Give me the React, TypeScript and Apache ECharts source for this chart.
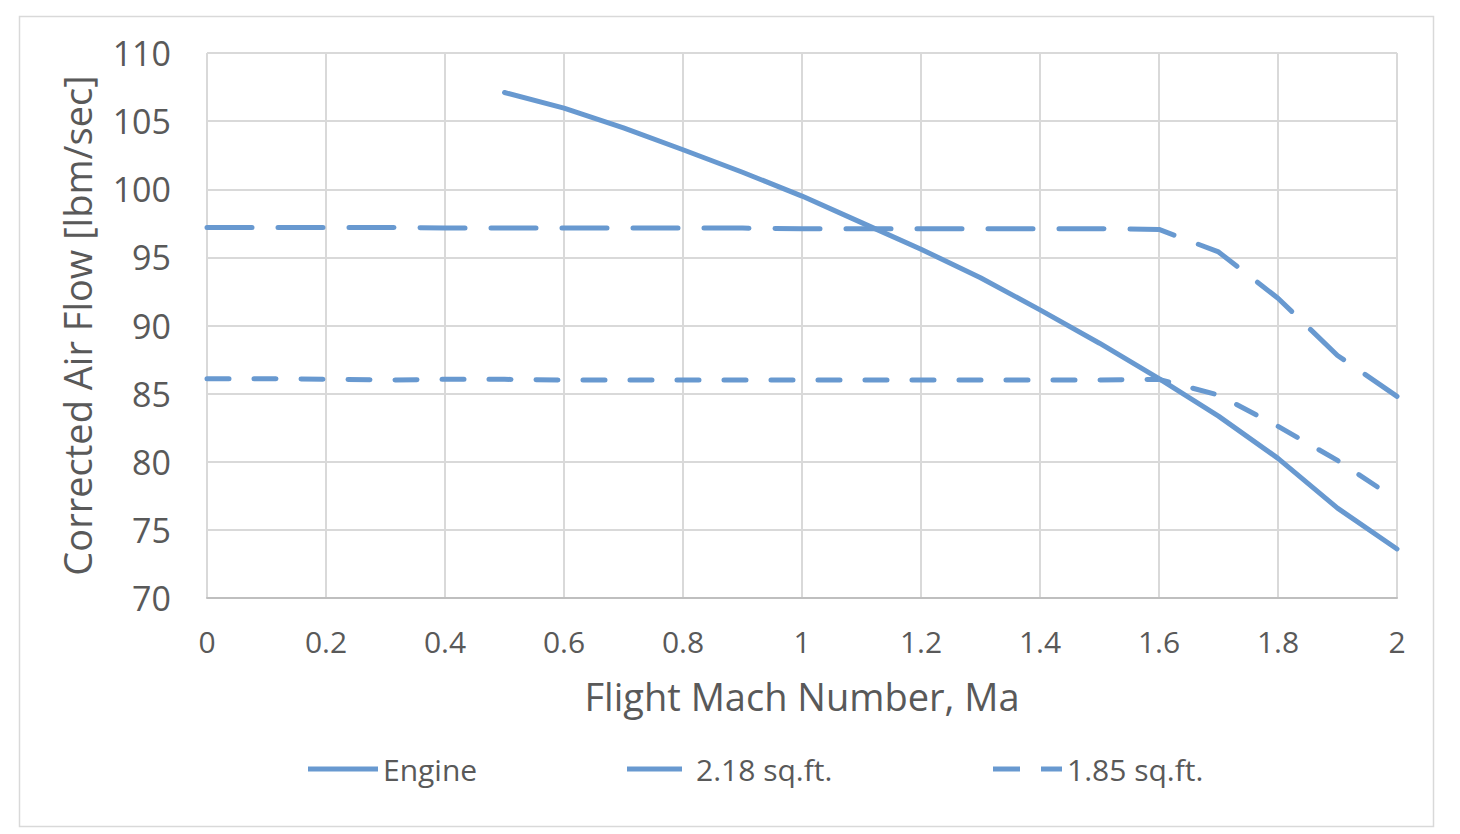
import React, { useEffect, useRef } from "react";
import * as echarts from "echarts";

const machNumbers = [0, 0.1, 0.2, 0.3, 0.4, 0.5, 0.6, 0.7, 0.8, 0.9, 1.0, 1.1, 1.2, 1.3, 1.4, 1.5, 1.6, 1.7, 1.8, 1.9, 2.0];
const engineFlow = [null, null, null, null, null, 107.1, 105.95, 104.5, 102.9, 101.25, 99.5, 97.55, 95.6, 93.5, 91.15, 88.7, 86.1, 83.35, 80.25, 76.6, 73.6];
const inlet218Flow = [97.2, 97.2, 97.2, 97.2, 97.15, 97.15, 97.15, 97.15, 97.15, 97.15, 97.1, 97.1, 97.1, 97.1, 97.1, 97.1, 97.05, 95.4, 92.0, 87.8, 84.8];
const inlet185Flow = [86.1, 86.1, 86.05, 86.0, 86.05, 86.05, 86.0, 86.0, 86.0, 86.0, 86.0, 86.0, 86.0, 86.0, 86.0, 86.0, 86.05, 84.9, 82.6, 80.1, 77.2];
const seriesNames = ["Engine", "2.18 sq.ft.", "1.85 sq.ft."];

const FONT = "'Open Sans', 'Noto Sans', sans-serif";
const TEXT = "#595959";
const BLUE = "#6899d0";

function pairs(vals: (number | null)[]) {
  return machNumbers.map((x, i) => [x, vals[i]]);
}

export default function App() {
  const ref = useRef<HTMLDivElement>(null);
  useEffect(() => {
    if (!ref.current) return;
    const chart = echarts.init(ref.current, undefined, { renderer: "svg" });
    const legendText = (padLeft: number) => ({
      color: TEXT,
      fontFamily: FONT,
      fontSize: 30,
      padding: [0, 0, 0, padLeft],
    });
    const lineCommon = {
      type: "line" as const,
      symbol: "none",
      connectNulls: false,
      color: BLUE,
    };
    chart.setOption({
      animation: false,
      backgroundColor: "#ffffff",
      graphic: [
        {
          type: "rect",
          shape: { x: 19.5, y: 16.5, width: 1414, height: 810 },
          style: { fill: "none", stroke: "#d9d9d9", lineWidth: 1.5 },
          silent: true,
        },
      ],
      grid: { left: 207, right: 63, top: 53, bottom: 236 },
      xAxis: {
        type: "value",
        min: 0,
        max: 2,
        interval: 0.2,
        name: "Flight Mach Number, Ma",
        nameLocation: "middle",
        nameGap: 79,
        nameTextStyle: { color: TEXT, fontFamily: FONT, fontSize: 38 },
        axisLine: { show: true, lineStyle: { color: "#bfbfbf", width: 2 } },
        axisTick: { show: false },
        axisLabel: { color: TEXT, fontFamily: FONT, fontSize: 30, margin: 28 },
        splitLine: { show: true, lineStyle: { color: "#d9d9d9", width: 2 } },
      },
      yAxis: {
        type: "value",
        min: 70,
        max: 110,
        interval: 5,
        name: "Corrected Air Flow [lbm/sec]",
        nameLocation: "middle",
        nameGap: 111,
        nameTextStyle: { color: TEXT, fontFamily: FONT, fontSize: 38 },
        axisLine: { show: false },
        axisTick: { show: false },
        axisLabel: { color: TEXT, fontFamily: FONT, fontSize: 34, margin: 36 },
        splitLine: { show: true, lineStyle: { color: "#d9d9d9", width: 2 } },
      },
      legend: [
        {
          data: [seriesNames[0]],
          left: 303,
          top: 749,
          itemWidth: 70,
          itemHeight: 5,
          icon: "path://M0,0h70v5h-70z",
          textStyle: legendText(0),
        },
        {
          data: [seriesNames[1]],
          left: 622,
          top: 749,
          itemWidth: 55,
          itemHeight: 5,
          icon: "path://M0,0h55v5h-55z",
          textStyle: legendText(9),
        },
        {
          data: [seriesNames[2]],
          left: 988,
          top: 749,
          itemWidth: 69,
          itemHeight: 5,
          icon: "path://M0,0h27v5h-27z M48,0h21v5h-21z",
          textStyle: legendText(0),
        },
      ],
      series: [
        {
          ...lineCommon,
          name: seriesNames[0],
          data: pairs(engineFlow),
          lineStyle: { color: BLUE, width: 5, cap: "round", join: "round" },
        },
        {
          ...lineCommon,
          name: seriesNames[1],
          data: pairs(inlet218Flow),
          lineStyle: { color: BLUE, width: 5, type: [45, 26], cap: "round", join: "round" },
        },
        {
          ...lineCommon,
          name: seriesNames[2],
          data: pairs(inlet185Flow),
          lineStyle: { color: BLUE, width: 5, type: [22, 25], cap: "round", join: "round" },
        },
      ],
    });
    return () => chart.dispose();
  }, []);
  return (
    <div
      ref={ref}
      style={{ position: "fixed", left: 0, top: 0, width: 1460, height: 834, background: "#fff" }}
    />
  );
}
